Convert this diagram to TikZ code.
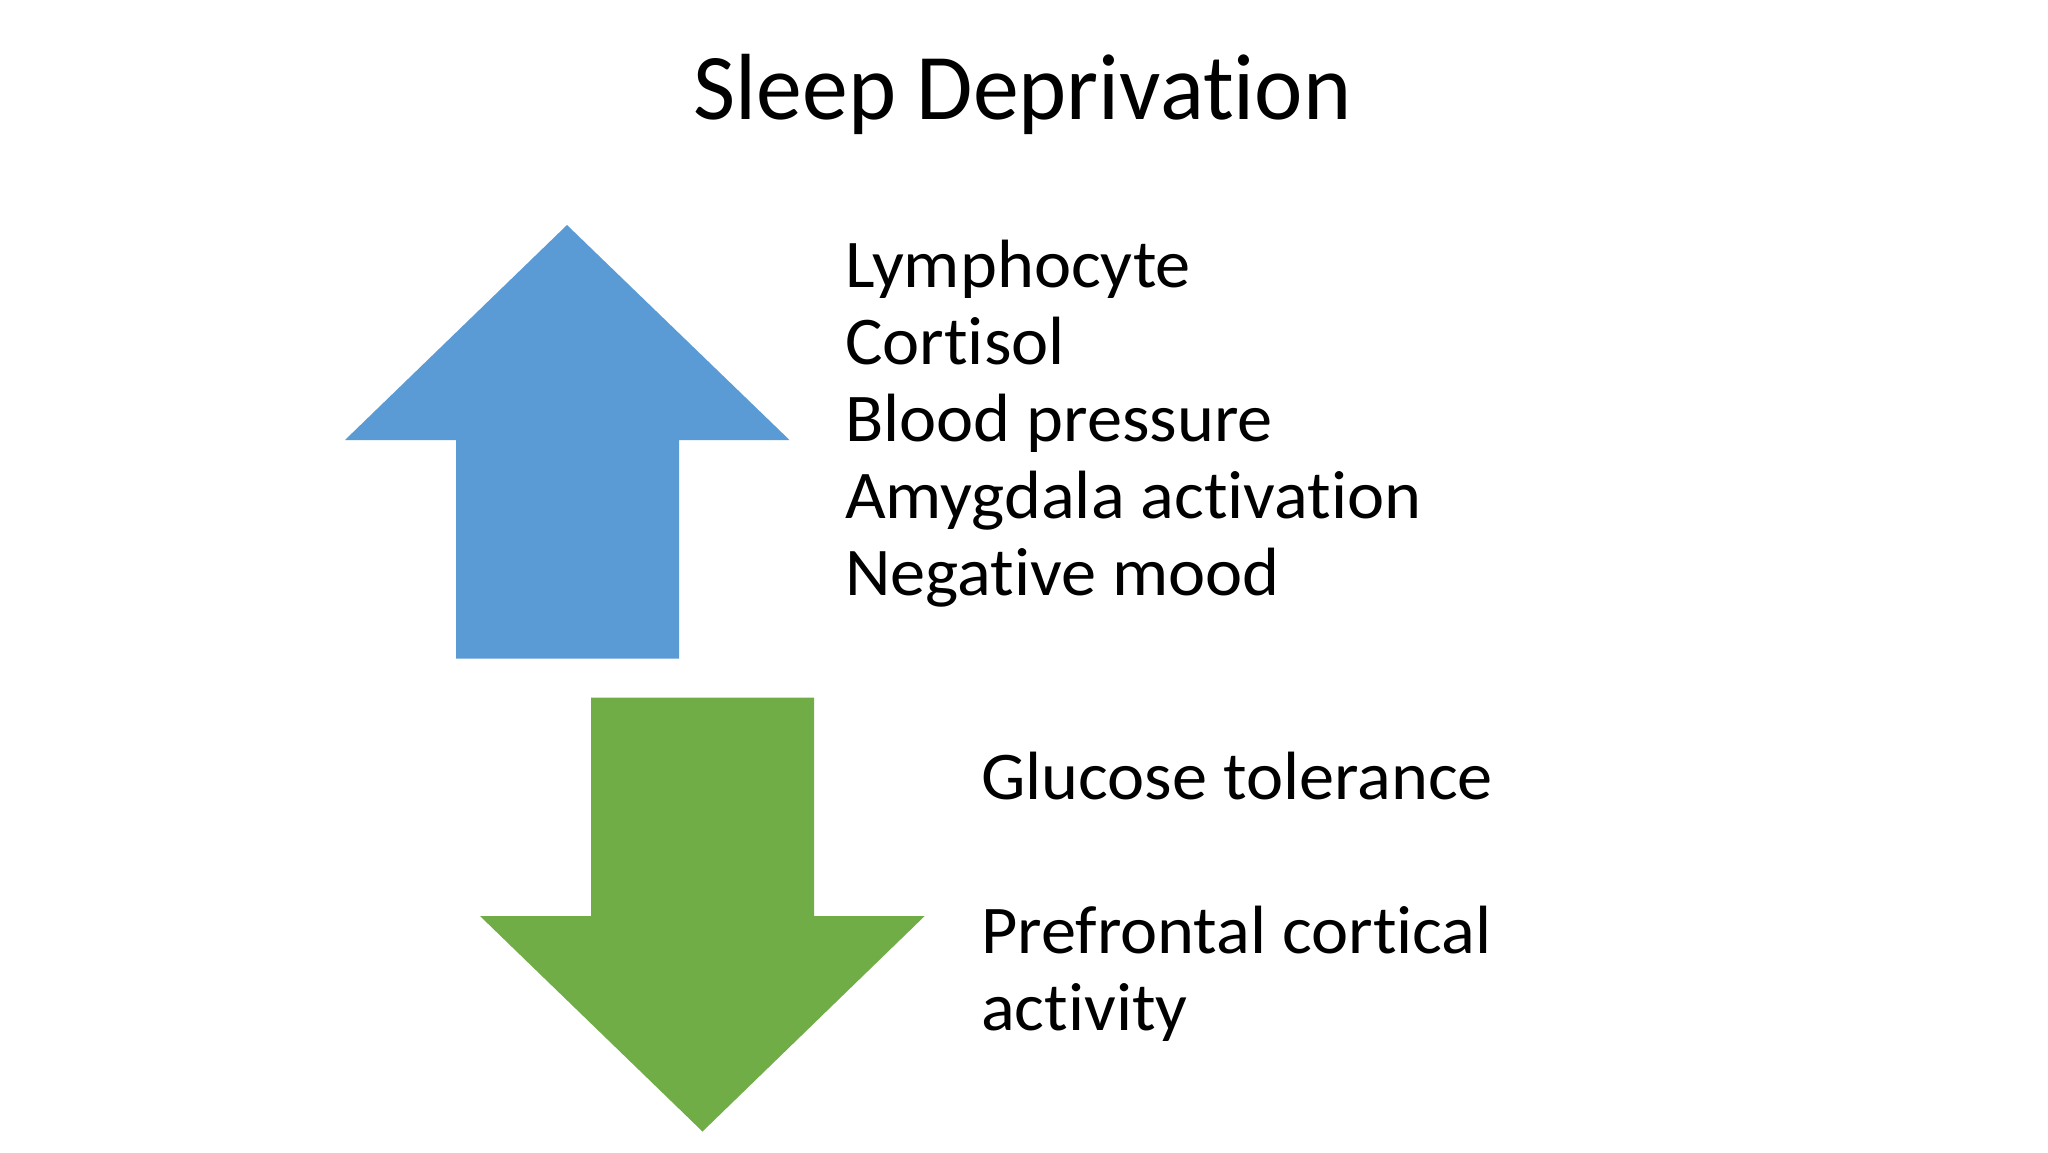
\documentclass[tikz,border=0pt]{standalone}
\usepackage{fontspec}
\setmainfont{Carlito}[RawFeature={-liga;-clig;-calt;-dlig;-rlig}]
\newfontfamily\titlefont{Carlito}[RawFeature={-liga;-clig;-calt;-dlig;-rlig},FakeStretch=0.975]
\newfontfamily\bodyfont{Carlito}[RawFeature={-liga;-clig;-calt;-dlig;-rlig},FakeStretch=1.03]
\definecolor{upblue}{HTML}{5B9BD5}
\definecolor{downgreen}{HTML}{70AD47}
\begin{document}
\begin{tikzpicture}[x=1pt,y=-1pt,
  titletext/.style={anchor=base,inner sep=0pt,font=\titlefont\fontsize{94}{113}\selectfont},
  itemtext/.style={anchor=base west,inner sep=0pt,font=\bodyfont\fontsize{68.3}{77}\selectfont}]
\useasboundingbox[fill=white] (0,0) rectangle (2048,1152);
% up arrow
\fill[upblue] (567,225) -- (789.5,440) -- (679,440) -- (679,658.5) -- (456,658.5) -- (456,440) -- (345,440) -- cycle;
% down arrow
\fill[downgreen] (591,697.5) -- (814,697.5) -- (814,916) -- (924.7,916) -- (702.5,1131.5) -- (480,916) -- (591,916) -- cycle;
% title
\node[titletext] (title) at (1022.5,119.5) {Sleep Deprivation};
% increased items
\node[itemtext] (l1) at (845,287) {Lymphocyte};
\node[itemtext] (l2) at (845,364) {Cortisol};
\node[itemtext] (l3) at (845,441) {Blood pressure};
\node[itemtext] (l4) at (845,518) {Amygdala activation};
\node[itemtext] (l5) at (845,595) {Negative mood};
% decreased items
\node[itemtext] (d1) at (981,799) {Glucose tolerance};
\node[itemtext] (d2) at (981,953) {Prefrontal cortical};
\node[itemtext] (d3) at (981,1030) {activity};
\end{tikzpicture}
\end{document}
